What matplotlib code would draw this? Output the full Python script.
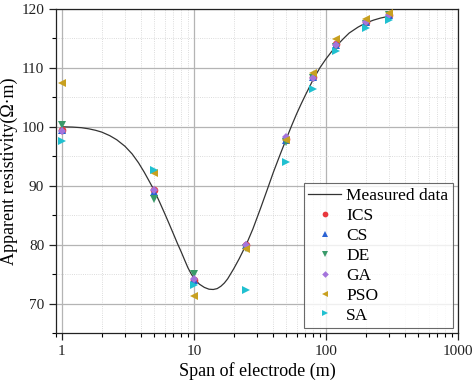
import matplotlib
matplotlib.use("Agg")
import matplotlib.pyplot as plt
from matplotlib.ticker import LogLocator, NullFormatter, MultipleLocator, FixedLocator, FixedFormatter

plt.rcParams['font.family'] = ['Liberation Serif', 'DejaVu Serif']

# Measured curve
curve_x = [1, 1.2, 1.4, 1.6, 1.8, 2, 2.3, 2.6, 3, 3.4, 3.8, 4.2, 4.6, 5, 5.5, 6, 6.5, 7,
           7.5, 8, 8.5, 9, 9.5, 10, 11, 12, 13, 14, 15, 16, 17, 18, 20, 22, 25, 28, 32,
           36, 40, 45, 50, 55, 60, 65, 70, 80, 90, 100, 110, 120, 135, 150, 175, 200,
           230, 260, 300]
curve_y = [100.0, 99.95, 99.85, 99.65, 99.4, 99.1, 98.5, 97.8, 96.7, 95.4, 93.9, 92.3,
           90.7, 89.2, 87.2, 85.3, 83.5, 81.8, 80.2, 78.8, 77.4, 76.1, 75.1, 74.3, 73.3,
           72.75, 72.45, 72.4, 72.55, 72.95, 73.5, 74.2, 75.9, 77.6, 80.1, 82.7, 86.2,
           89.4, 92.3, 95.3, 97.9, 100.2, 102.2, 103.9, 105.4, 108.0, 110.0, 111.5,
           112.7, 113.7, 114.9, 115.9, 116.9, 117.6, 118.1, 118.45, 118.75]

spans = [1, 5, 10, 25, 50, 80, 120, 200, 300]
ics = [99.5, 89.2, 74.0, 80.0, 98.0, 108.5, 114.0, 117.8, 119.0]
cs  = [99.5, 89.0, 74.0, 80.0, 97.8, 108.5, 113.8, 117.7, 119.0]
de  = [100.3, 87.7, 75.0, 79.5, 97.5, 108.3, 113.5, 117.5, 118.9]
ga  = [99.3, 89.3, 74.2, 80.0, 98.3, 108.3, 113.9, 117.8, 119.0]
pso = [107.5, 92.1, 71.3, 79.2, 97.8, 109.2, 114.9, 118.2, 119.3]
sa  = [97.6, 92.6, 73.2, 72.3, 94.1, 106.4, 112.8, 116.8, 118.1]

series = [
    ("ICS", ics, 'o', '#e8383d'),
    ("CS", cs, '^', '#2a62d4'),
    ("DE", de, 'v', '#3a9a6a'),
    ("GA", ga, 'D', '#a474dc'),
    ("PSO", pso, '<', '#c8a020'),
    ("SA", sa, '>', '#20c0d0'),
]

fig = plt.figure(figsize=(4.74, 3.86), dpi=100)
ax = fig.add_axes([0.118, 0.137, 0.848, 0.840])

ax.plot(curve_x, curve_y, color='#333333', lw=0.9, label='Measured data', zorder=3)
for name, vals, mk, col in series:
    ms = 4.5 if mk == 'D' else 5.5
    ax.plot(spans, vals, linestyle='none', marker=mk, color=col, markersize=ms,
            markeredgewidth=0, label=name, zorder=4)

ax.set_xscale('log')
ax.set_xlim(0.9, 1000)
ax.set_ylim(65, 120)
ax.xaxis.set_major_locator(FixedLocator([1, 10, 100, 1000]))
ax.xaxis.set_major_formatter(FixedFormatter(['1', '10', '100', '1000']))
ax.xaxis.set_minor_locator(LogLocator(base=10, subs=range(2, 10)))
ax.xaxis.set_minor_formatter(NullFormatter())
ax.yaxis.set_major_locator(MultipleLocator(10))
ax.yaxis.set_minor_locator(MultipleLocator(5))

ax.grid(True, which='major', color='#b4b4b4', lw=0.9)
ax.grid(True, which='minor', color='#d0d0d0', lw=0.6, linestyle=':')
ax.set_axisbelow(True)

ax.tick_params(which='major', direction='out', length=5, width=0.9, labelsize=11, colors='#222222')
ax.tick_params(which='minor', direction='out', length=3, width=0.8)
for s in ax.spines.values():
    s.set_color('#222222')
    s.set_linewidth(0.9)

ax.set_xlabel('Span of electrode (m)', fontsize=13, labelpad=3)
ax.set_ylabel('Apparent resistivity(\u03a9\u00b7m)', fontsize=13, labelpad=2)

leg = ax.legend(loc='lower right', fontsize=12.5, frameon=True, fancybox=False,
                edgecolor='#444444', handlelength=1.9, handletextpad=0.3,
                borderaxespad=0.3, labelspacing=0.22, markerscale=0.75,
                borderpad=0.25)
leg.get_frame().set_linewidth(0.8)

fig.savefig('out.png', dpi=100)
